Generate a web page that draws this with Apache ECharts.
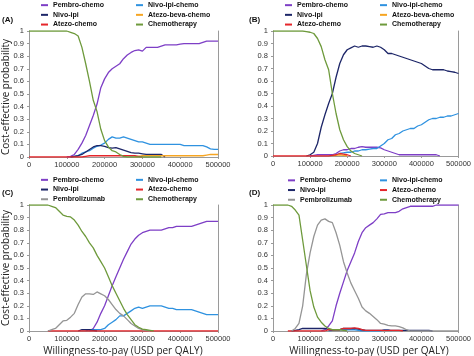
<!DOCTYPE html>
<html><head><meta charset="utf-8">
<script src="https://cdn.jsdelivr.net/npm/echarts@6/dist/echarts.min.js"></script>
<style>html,body{margin:0;padding:0;background:#fff}#c{width:474px;height:356px}</style>
</head><body><div id="c"></div>
<script>
const WTP = [0,10000,20000,30000,40000,50000,60000,70000,80000,90000,100000,110000,120000,130000,140000,150000,160000,170000,180000,190000,200000,210000,220000,230000,240000,250000,260000,270000,280000,290000,300000,310000,320000,330000,340000,350000,360000,370000,380000,390000,400000,410000,420000,430000,440000,450000,460000,470000,480000,490000,500000];
const xTicks = [0,100000,200000,300000,400000,500000];
const yTicks = [0,0.1,0.2,0.3,0.4,0.5,0.6,0.7,0.8,0.9,1];
const n = null;
// Panel A
const A_pembroChemo = [n,n,n,n,n,n,n,n,n,n,0,0.005,0.02,0.06,0.11,0.17,0.25,0.33,0.42,0.55,0.62,0.67,0.70,0.72,0.74,0.78,0.81,0.83,0.845,0.85,0.84,0.87,0.87,0.87,0.87,0.88,0.89,0.89,0.89,0.89,0.895,0.90,0.90,0.90,0.90,0.90,0.91,0.92,0.92,0.92,0.92];
const A_nivoIpiChemo = [n,n,n,n,n,n,n,n,n,n,n,0,0.005,0.01,0.03,0.04,0.05,0.07,0.085,0.095,0.11,0.14,0.16,0.15,0.15,0.16,0.15,0.14,0.13,0.12,0.12,0.11,0.10,0.10,0.10,0.10,0.10,0.10,0.10,0.10,0.10,0.09,0.09,0.09,0.09,0.09,0.09,0.08,0.065,0.06,0.06];
const A_nivoIpi = [n,n,n,n,n,n,n,n,n,n,n,0,0.005,0.01,0.02,0.04,0.06,0.08,0.09,0.09,0.085,0.075,0.07,0.075,0.065,0.055,0.045,0.035,0.03,0.03,0.025,0.02,0.02,0.02,0.02,0.02,0,n,n,n,n,n,n,n,n,n,n,n,n,n,n];
const A_atezoBevaChemo = [n,n,n,n,n,n,n,n,n,n,n,n,n,n,n,n,n,n,n,n,n,n,n,n,n,n,n,n,0,0.005,0.01,0.01,0.01,0.01,0.01,0.01,0.01,0.01,0.01,0.01,0.01,0.01,0.01,0.01,0.01,0.01,0.01,0.015,0.02,0.02,0.02];
const A_atezoChemo = [0,0,0,0,0,0,0,0,0,0,0,0,0,0,0,0.005,0.01,0.01,0.01,0.01,0.01,0.01,0.01,0.01,0.01,0.01,0.01,0.01,0.01,0.005,0,n,n,n,n,n,n,n,n,n,n,n,n,n,n,n,n,n,n,n,n];
const A_chemo = [1,1,1,1,1,1,1,1,1,1,1,0.99,0.98,0.96,0.87,0.74,0.60,0.45,0.36,0.22,0.13,0.08,0.05,0.04,0.02,0.005,0,0,0,0,0,0,0,0,0,0,n,n,n,n,n,n,n,n,n,n,n,n,n,n,n];
// Panel B
const B_pembroChemo = [n,n,n,n,n,n,n,n,n,n,0,0.005,0.01,0.01,0.01,0.01,0.01,0.02,0.04,0.05,0.05,0.06,0.06,0.07,0.075,0.07,0.07,0.07,0.07,0.065,0.05,0.04,0.03,0.02,0.01,0.01,0.01,0.01,0.01,0.01,0.01,0.01,0.01,0.01,0.01,0,n,n,n,n,n];
const B_nivoIpiChemo = [n,n,n,n,n,n,n,n,n,n,n,n,n,n,n,n,0,0.01,0.02,0.025,0.03,0.03,0.04,0.04,0.05,0.05,0.055,0.06,0.06,0.08,0.10,0.13,0.14,0.17,0.18,0.20,0.21,0.22,0.22,0.24,0.25,0.27,0.29,0.30,0.30,0.31,0.31,0.32,0.32,0.33,0.34];
const B_nivoIpi = [n,n,n,n,n,n,n,n,n,0,0.01,0.03,0.10,0.23,0.33,0.42,0.50,0.63,0.74,0.81,0.85,0.865,0.88,0.87,0.88,0.88,0.875,0.87,0.88,0.87,0.85,0.82,0.82,0.81,0.80,0.79,0.78,0.77,0.76,0.75,0.74,0.72,0.70,0.69,0.69,0.69,0.69,0.68,0.675,0.67,0.66];
const B_atezoBevaChemo = [n,n,n,n,n,n,n,n,n,n,n,n,n,n,n,n,0,0.005,0.01,0.005,0,n,n,n,n,n,n,n,n,n,n,n,n,n,n,n,n,n,n,n,n,n,n,n,n,n,n,n,n,n,n];
const B_atezoChemo = [0,0,0,0,0,0,0,0,0,0,0,0,0,0,0,0,0.005,0.01,0.02,0.015,0.01,0,n,n,n,n,n,n,n,n,n,n,n,n,n,n,n,n,n,n,n,n,n,n,n,n,n,n,n,n,n];
const B_chemo = [1,1,1,1,1,1,1,1,1,0.995,0.99,0.98,0.94,0.875,0.77,0.69,0.50,0.34,0.21,0.13,0.075,0.04,0.02,0.01,0,n,n,n,n,n,n,n,n,n,n,n,n,n,n,n,n,n,n,n,n,n,n,n,n,n,n];
// Panel C
const C_pembroChemo = [n,n,n,n,n,n,n,n,n,n,n,n,n,n,n,n,0,0.02,0.07,0.14,0.20,0.28,0.36,0.43,0.50,0.57,0.63,0.69,0.73,0.76,0.78,0.79,0.80,0.80,0.80,0.80,0.81,0.82,0.82,0.83,0.83,0.83,0.83,0.83,0.84,0.85,0.86,0.87,0.87,0.87,0.87];
const C_nivoIpiChemo = [n,n,n,n,n,n,n,n,n,n,n,n,n,n,n,0,0.01,0.01,0.01,0.01,0.02,0.05,0.07,0.09,0.12,0.12,0.14,0.16,0.18,0.19,0.18,0.19,0.20,0.20,0.20,0.20,0.19,0.18,0.18,0.17,0.17,0.17,0.17,0.17,0.16,0.15,0.14,0.13,0.13,0.13,0.13];
const C_nivoIpi = [n,n,n,n,n,n,n,n,n,n,n,n,n,0,0.01,0.01,0.01,0.005,0,n,n,n,n,n,n,n,n,n,n,n,n,n,n,n,n,n,n,n,n,n,n,n,n,n,n,n,n,n,n,n,n];
const C_atezoChemo = [n,n,n,n,n,0,0,0,0,0,0,0,0,0,0,0,0,0,0,0,0,0,0,0,0,0,0,0,0,0,0,0,0,0,0,0,0,0,0,0,0,0,0,0,0,0,0,0,0,0,0];
const C_pembrolizumab = [n,n,n,n,n,0,0.01,0.02,0.05,0.08,0.085,0.11,0.14,0.21,0.27,0.295,0.295,0.29,0.31,0.295,0.28,0.25,0.21,0.17,0.14,0.12,0.09,0.06,0.04,0.02,0.01,0.005,0,n,n,n,n,n,n,n,n,n,n,n,n,n,n,n,n,n,n];
const C_chemo = [1,1,1,1,1,1,0.99,0.98,0.95,0.92,0.91,0.905,0.88,0.84,0.79,0.75,0.70,0.66,0.60,0.55,0.50,0.43,0.36,0.30,0.24,0.18,0.13,0.09,0.05,0.03,0.015,0.01,0.005,0,n,n,n,n,n,n,n,n,n,n,n,n,n,n,n,n,n];
// Panel D
const D_pembroChemo = [n,n,n,n,n,n,n,n,n,n,n,n,n,0,0.01,0.04,0.08,0.20,0.30,0.39,0.48,0.55,0.62,0.71,0.78,0.82,0.84,0.86,0.89,0.925,0.93,0.94,0.94,0.94,0.95,0.97,0.98,0.99,0.99,0.99,0.99,0.99,0.99,0.99,1,1,1,1,1,1,1];
const D_nivoIpiChemo = [n,n,n,n,n,n,n,n,n,n,n,n,n,n,n,0,0.005,0.01,0.01,0.01,0.01,0.01,0.01,0.005,0,0,0,0,0,0,0.01,0.01,0,n,n,n,n,n,n,n,n,n,n,n,n,n,n,n,n,n,n];
const D_nivoIpi = [n,n,n,n,n,0,0.005,0.01,0.02,0.02,0.02,0.02,0.02,0.02,0.02,0.01,0.01,0.01,0.01,0.02,0.02,0.02,0.02,0.015,0.01,0.005,0.005,0.005,0.005,0.005,0.005,0.005,0.005,0.005,0.005,0.005,0.005,0.005,0.005,0.005,0.005,0.005,0.005,0,n,n,n,n,n,n,n];
const D_atezoChemo = [n,n,n,n,0,0,0,0,0,0,0,0,0,0,0,0.01,0.01,0.01,0.01,0.02,0.02,0.02,0.025,0.02,0.01,0.005,0.005,0.005,0.005,0.005,0.005,0.005,0.005,0.005,0.005,0,n,n,n,n,n,n,n,n,n,n,n,n,n,n,n];
const D_pembrolizumab = [n,n,n,n,n,0,0.02,0.06,0.20,0.45,0.62,0.75,0.84,0.88,0.89,0.87,0.86,0.78,0.68,0.55,0.46,0.38,0.32,0.26,0.19,0.16,0.14,0.115,0.09,0.06,0.055,0.045,0.04,0.04,0.035,0.025,0.01,0,0,0,0,0,0,0,0,0,0,0,0,0,0];
const D_chemo = [1,1,1,1,1,0.99,0.96,0.92,0.72,0.52,0.32,0.19,0.11,0.07,0.04,0.02,0.01,0.01,0.01,0.005,0,n,n,n,n,n,n,n,n,n,n,n,n,n,n,n,n,n,n,n,n,n,n,n,n,n,n,n,n,n,n];

const COLORS = {
  'Pembro-chemo':'#7e3fc6','Nivo-ipi-chemo':'#2f92e0','Nivo-ipi':'#1d2668',
  'Atezo-beva-chemo':'#f6a522','Atezo-chemo':'#e5262b','Chemotherapy':'#6e9a3c','Pembrolizumab':'#959595'
};
const panels = [
  {label:'(A)', grid:{left:29,top:31,width:189,height:126}, leg:[41,136], legTop:0.3, lx:2, ly:21,
   series:[['Pembro-chemo',A_pembroChemo],['Nivo-ipi-chemo',A_nivoIpiChemo],['Nivo-ipi',A_nivoIpi],['Atezo-beva-chemo',A_atezoBevaChemo],['Atezo-chemo',A_atezoChemo],['Chemotherapy',A_chemo]]},
  {label:'(B)', grid:{left:273,top:31,width:190,height:125}, leg:[285,380], legTop:0.3, lx:249, ly:21,
   series:[['Pembro-chemo',B_pembroChemo],['Nivo-ipi-chemo',B_nivoIpiChemo],['Nivo-ipi',B_nivoIpi],['Atezo-beva-chemo',B_atezoBevaChemo],['Atezo-chemo',B_atezoChemo],['Chemotherapy',B_chemo]]},
  {label:'(C)', grid:{left:29,top:205,width:189,height:126}, leg:[41,136], legTop:175, lx:2, ly:194,
   series:[['Pembro-chemo',C_pembroChemo],['Nivo-ipi-chemo',C_nivoIpiChemo],['Nivo-ipi',C_nivoIpi],['Atezo-chemo',C_atezoChemo],['Pembrolizumab',C_pembrolizumab],['Chemotherapy',C_chemo]]},
  {label:'(D)', grid:{left:273,top:205,width:191,height:126}, leg:[288,380], legTop:175.5, lx:249, ly:194,
   series:[['Pembro-chemo',D_pembroChemo],['Nivo-ipi-chemo',D_nivoIpiChemo],['Nivo-ipi',D_nivoIpi],['Atezo-chemo',D_atezoChemo],['Pembrolizumab',D_pembrolizumab],['Chemotherapy',D_chemo]]}
];
const FONT = '"Liberation Sans", Arial, sans-serif';
const grid=[], xAxis=[], yAxis=[], series=[], legend=[], graphic=[];
panels.forEach((p,i)=>{
  grid.push(Object.assign({containLabel:false}, p.grid));
  xAxis.push({type:'value', gridIndex:i, min:0, max:500000, interval:100000,
    axisLine:{show:true, onZero:false, lineStyle:{color:'#9a9a9a', width:1}},
    axisTick:{show:true, length:2, lineStyle:{color:'#9a9a9a'}},
    axisLabel:{fontSize:7.5, color:'#333', margin:4, fontFamily:FONT, showMaxLabel:true, showMinLabel:true,
      formatter:v=>String(v)},
    splitLine:{show:false}});
  yAxis.push({type:'value', gridIndex:i, min:0, max:1, interval:0.1,
    axisLine:{show:true, lineStyle:{color:'#9a9a9a', width:1}},
    axisTick:{show:true, length:2, lineStyle:{color:'#9a9a9a'}},
    axisLabel:{fontSize:7.5, color:'#333', margin:5, fontFamily:FONT},
    splitLine:{show:false}});
  yAxis.push({type:'value', gridIndex:i, min:0, max:1, position:'right',
    axisLine:{show:true, lineStyle:{color:'#9a9a9a', width:1}},
    axisTick:{show:false}, axisLabel:{show:false}, splitLine:{show:false}});
  p.series.forEach(([name, vals],k)=>{
    series.push({type:'line', name:name, xAxisIndex:i, yAxisIndex:i*2, symbol:'none', showSymbol:false,
      data: WTP.map((x,j)=>[x, vals[j]]), connectNulls:false, z:2+k,
      lineStyle:{color:COLORS[name], width:1.3}, itemStyle:{color:COLORS[name]}, animation:false});
  });
  const names = p.series.map(s=>s[0]);
  const col1 = [names[0], names[2], names[4]];
  const col2 = [names[1], names[3], names[5]];
  [col1,col2].forEach((col,c)=>{
    legend.push({orient:'vertical', left:p.leg[c], top:p.legTop, padding:0, itemGap:0,
      itemWidth:7, itemHeight:2, icon:'rect', selectedMode:false,
      data: col.map(nm=>({name:nm, itemStyle:{color:COLORS[nm]}})),
      textStyle:{fontSize:7, fontWeight:'bold', color:'#111', fontFamily:FONT, lineHeight:9.7}});
  });
  graphic.push({type:'text', left:p.lx, top:p.ly-5, style:{text:p.label, font:'bold 8px '+FONT, fill:'#111'}});
});
graphic.push({type:'text', x:6, y:97, rotation:Math.PI/2, style:{text:'Cost-effective probability', font:'10px "Open Sans"', fill:'#222', textAlign:'center', textVerticalAlign:'middle'}});
graphic.push({type:'text', x:6, y:268, rotation:Math.PI/2, style:{text:'Cost-effective probability', font:'10px "Open Sans"', fill:'#222', textAlign:'center', textVerticalAlign:'middle'}});
graphic.push({type:'text', x:123, y:351, style:{text:'Willingness-to-pay (USD per QALY)', font:'10px "Open Sans"', fill:'#222', textAlign:'center', textVerticalAlign:'middle'}});
graphic.push({type:'text', x:369, y:351, style:{text:'Willingness-to-pay (USD per QALY)', font:'10px "Open Sans"', fill:'#222', textAlign:'center', textVerticalAlign:'middle'}});

const chart = echarts.init(document.getElementById('c'), null, {renderer:'canvas'});
chart.setOption({animation:false, backgroundColor:'#fff', grid, xAxis, yAxis, series, legend, graphic});
</script></body></html>
